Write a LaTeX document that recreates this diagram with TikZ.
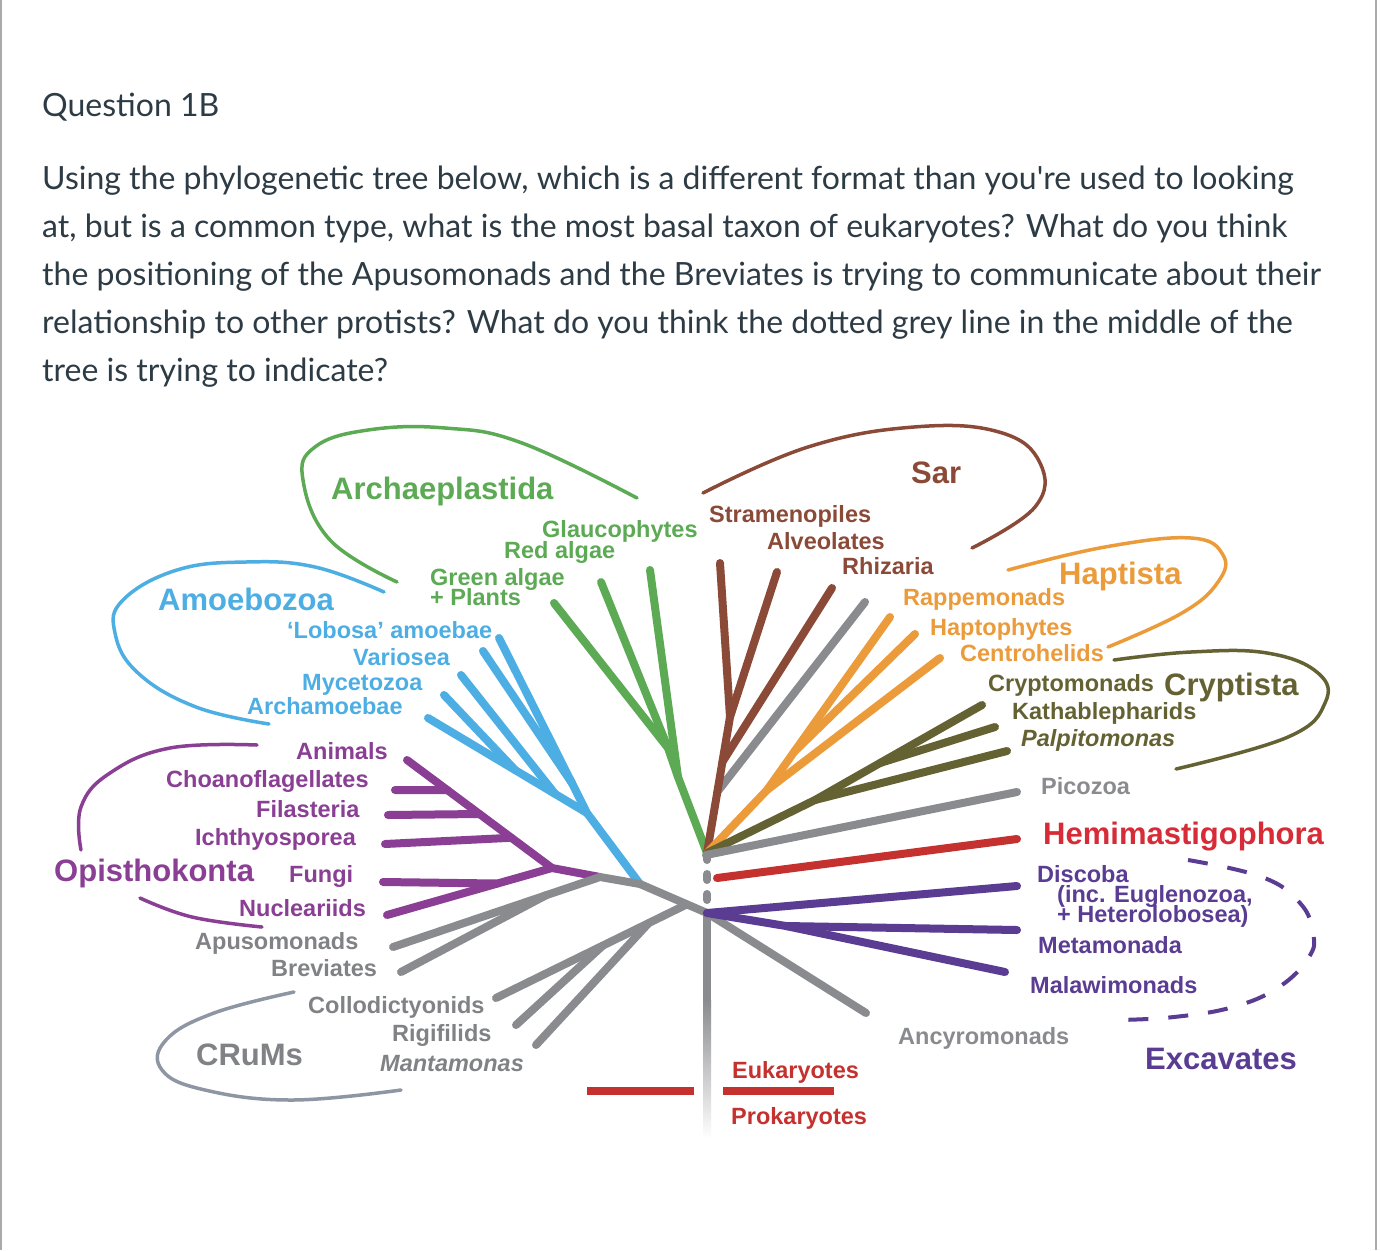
\documentclass[tikz,border=0pt]{standalone}
\usepackage{fontspec}
\newfontfamily\lato{Lato}
\newfontfamily\lib{Liberation Sans}
\usetikzlibrary{calc}
\definecolor{qtext}{HTML}{2D3B45}
\definecolor{frame}{HTML}{AAAAAA}
\definecolor{cgreen}{HTML}{5DAA55}
\definecolor{cblue}{HTML}{4DAEE3}
\definecolor{cpurple}{HTML}{8A3F94}
\definecolor{cgrey}{HTML}{8A8B8E}
\definecolor{cbrown}{HTML}{8B4A37}
\definecolor{corange}{HTML}{EC9B3B}
\definecolor{colive}{HTML}{646232}
\definecolor{cred}{HTML}{C4312F}
\definecolor{chemi}{HTML}{D72C37}
\definecolor{cindigo}{HTML}{5A3C93}
\definecolor{cslate}{HTML}{8F96A3}
\definecolor{ctgrey}{HTML}{808285}
\begin{document}
\begin{tikzpicture}[x=1pt,y=-1pt,line cap=round,line join=round,
  br/.style={line width=8pt},
  outl/.style={line width=3.5pt},
  qt/.style={inner sep=0pt,anchor=base west,text=qtext,font=\lato\fontsize{32}{33}\selectfont},
  lab/.style={inner sep=0pt,anchor=base west,font=\lib\bfseries\fontsize{23.5}{24}\selectfont},
  ilab/.style={inner sep=0pt,anchor=base west,font=\lib\bfseries\itshape\fontsize{23.5}{24}\selectfont},
  biglab/.style={inner sep=0pt,anchor=base west,font=\lib\bfseries\fontsize{31}{32}\selectfont}]
\useasboundingbox (0,0) rectangle (1380,1250);
\fill[white] (0,0) rectangle (1380,1250);
\draw[frame,line width=2pt,line cap=butt] (1,0) -- (1,1250);
\draw[frame,line width=2pt,line cap=butt] (1375.5,0) -- (1375.5,1250);

% question text
\node[qt] (q0) at (42,116) {Question 1B};
\node[qt] (q1) at (42,189) {Using the phylogenetic tree below, which is a different format than you're used to looking};
\node[qt] (q2) at (42,237) {at, but is a common type, what is the most basal taxon of eukaryotes? What do you think};
\node[qt] (q3) at (42,285) {the positioning of the Apusomonads and the Breviates is trying to communicate about their};
\node[qt] (q4) at (42,333) {relationship to other protists? What do you think the dotted grey line in the middle of the};
\node[qt] (q5) at (42,381) {tree is trying to indicate?};

% ---------- coordinates ----------
\coordinate (h1) at (707,853);
\coordinate (h2) at (707,913);
% green
\coordinate (gG) at (650,570);
\coordinate (gR) at (601,582);
\coordinate (gP) at (554,603);
\coordinate (g2) at (668,748);
\coordinate (g1) at (678,777);
% blue
\coordinate (bj) at (640,884);
\coordinate (bl1) at (587,813);
\coordinate (b1e) at (499,638);
\coordinate (b2e) at (483,651);
\coordinate (b3e) at (461,675);
\coordinate (b4e) at (444,695);
\coordinate (b5e) at (428,718);
\coordinate (blo) at ($(b1e)!0.83!(bl1)$);
\coordinate (bam) at ($(b5e)!0.55!(bl1)$);
\coordinate (bev) at ($(b5e)!0.8!(bl1)$);
% grey main
\coordinate (R) at (600,877);
\coordinate (cj) at ($(bj)!0.7!(h2)$);
\coordinate (anc) at (866,1013);
% purple
\coordinate (p1) at (552,868);
\coordinate (ani) at (407,760);
\coordinate (cho) at (395,790);
\coordinate (fil) at (388,815);
\coordinate (ich) at (385,844);
\coordinate (fun) at (383,882);
\coordinate (nuc) at (387,915);
% apuso / brev
\coordinate (apu) at (393,947);
\coordinate (bre) at (401,972);
\coordinate (ap1) at ($(apu)!0.74!(R)$);
% CRuMs
\coordinate (col) at (496,998);
\coordinate (rig) at (516,1025);
\coordinate (man) at (536,1045);
\coordinate (c1) at ($(col)!0.56!(cj)$);
\coordinate (c2) at ($(col)!0.8!(cj)$);
% brown
\coordinate (sS) at (720,563);
\coordinate (sA) at (777,572);
\coordinate (sR) at (832,588);
\coordinate (sb1) at (730,717);
\coordinate (sb2) at ($(sb1)!0.33!(h1)$);
\coordinate (tel) at (865,602);
\coordinate (sb3) at ($(sb1)!0.55!(h1)$);
% orange
\coordinate (rap) at (890,617);
\coordinate (hap) at (915,634);
\coordinate (cen) at (940,658);
\coordinate (o1) at (767,790);
\coordinate (o2) at ($(rap)!0.78!(o1)$);
% olive
\coordinate (cr) at (982,705);
\coordinate (ka) at (995,727);
\coordinate (pa) at (1007,751);
\coordinate (ol1) at (815,800);
\coordinate (ol2) at ($(cr)!0.61!(ol1)$);
% picozoa, hemi
\coordinate (pic) at (1017,792);
\coordinate (pich) at (706,855);
\coordinate (hem) at (1017,839);
\coordinate (hemh) at (717,878);
% excavates
\coordinate (disc) at (1017,886);
\coordinate (ex1) at (786,926);
\coordinate (meta) at (1017,930);
\coordinate (mala) at (1005,972);

% ---------- branches ----------
% vertical grey base line with fading
\draw[cgrey,line width=8pt,line cap=butt] (h2) -- (707,1000);
\shade[top color=cgrey,bottom color=white] (703,1000) rectangle (711,1138);
% dotted line between hubs
\draw[cgrey,line width=8pt,dash pattern=on 6pt off 14pt] (707,854) -- (h2);

\draw[br,cgreen] (gP) -- (g2) -- (g1) -- (h1);
\draw[br,cgreen] (gR) -- (g2);
\draw[br,cgreen] (gG) -- (g1);

\draw[br,cblue] (b1e) -- (bl1) -- (bj);
\draw[br,cblue] (b2e) -- (blo);
\draw[br,cblue] (b5e) -- (bl1);
\draw[br,cblue] (b4e) -- (bam);
\draw[br,cblue] (b3e) -- (bev);

\draw[br,cpurple] (ani) -- (p1) -- (R);
\draw[br,cpurple] (cho) -- ($(ani)!0.28!(p1)$);
\draw[br,cpurple] (fil) -- ($(ani)!0.5!(p1)$);
\draw[br,cpurple] (ich) -- ($(ani)!0.72!(p1)$);
\draw[br,cpurple] (nuc) -- (p1);
\draw[br,cpurple] (fun) -- ($(nuc)!0.67!(p1)$);

\draw[br,cgrey] (apu) -- (R) -- (bj) -- (cj) -- (h2) -- (anc);
\draw[br,cgrey] (bre) -- (ap1);
\draw[br,cgrey] (col) -- (cj);
\draw[br,cgrey] (rig) -- (c1);
\draw[br,cgrey] (man) -- (c2);

\draw[br,cgrey] (tel) -- (sb3);
\draw[br,cbrown] (sS) -- (sb1) -- (h1);
\draw[br,cbrown] (sA) -- (sb1);
\draw[br,cbrown] (sR) -- (sb2);

\draw[br,corange] (rap) -- (o1) -- (h1);
\draw[br,corange] (hap) -- (o2);
\draw[br,corange] (cen) -- (o1);

\draw[br,colive] (cr) -- (ol1) -- (h1);
\draw[br,colive] (ka) -- (ol2);
\draw[br,colive] (pa) -- (ol1);

\draw[br,cgrey] (pich) -- (pic);
\draw[br,cred] (hemh) -- (hem);

\draw[br,cindigo] (h2) -- (disc);
\draw[br,cindigo] (h2) -- (ex1) -- (meta);
\draw[br,cindigo] (ex1) -- (mala);

% eukaryote / prokaryote bars
\draw[cred,line width=8pt,line cap=butt] (587,1091) -- (694,1091);
\draw[cred,line width=8pt,line cap=butt] (723,1091) -- (834,1091);

% ---------- outlines ----------
\draw[outl,cgreen] plot[smooth,tension=0.7] coordinates {(397,582) (330,540) (303,480) (315,447) (368,430) (445,428) (522,443) (637,498)};
\draw[outl,cblue] plot[smooth,tension=0.7] coordinates {(384,592) (315,567) (246,562) (177,570) (123,600) (115,633) (138,673) (196,707) (269,724)};
\draw[outl,cpurple] plot[smooth,tension=0.7] coordinates {(257,745) (170,748) (110,773) (81,807) (81,850)};
\draw[outl,cpurple] plot[smooth,tension=0.7] coordinates {(140,898) (192,917) (262,927)};
\draw[outl,cslate] plot[smooth,tension=0.7] coordinates {(294,992) (214,1013) (166,1040) (162,1070) (205,1090) (292,1100) (401,1090)};
\draw[outl,cbrown] plot[smooth,tension=0.7] coordinates {(703,493) (808,447) (914,427) (999,432) (1040,463) (1035,507) (972,548)};
\draw[outl,corange] plot[smooth,tension=0.7] coordinates {(1008,570) (1105,547) (1191,538) (1223,555) (1218,582) (1182,613) (1108,647)};
\draw[outl,colive] plot[smooth,tension=0.7] coordinates {(1114,660) (1191,652) (1267,653) (1318,673) (1325,703) (1288,737) (1176,769)};
\draw[cindigo,line width=4pt,line cap=butt,dash pattern=on 20pt off 20pt] plot[smooth,tension=0.7] coordinates {(1188,860) (1262,877) (1300,903) (1313,933) (1309,957) (1279,987) (1233,1007) (1174,1017) (1118,1020)};

% ---------- labels ----------
\node[biglab,text=cgreen] (tArch) at (331,499) {Archaeplastida};
\node[lab,text=cgreen] (tGla) at (542,537) {Glaucophytes};
\node[lab,text=cgreen] (tRed) at (504,558) {Red algae};
\node[lab,text=cgreen] (tGre) at (430,585) {Green algae};
\node[lab,text=cgreen] (tPla) at (430,605) {+ Plants};

\node[biglab,text=cblue] (tAmo) at (158,610) {Amoebozoa};
\node[lab,text=cblue] (tLob) at (287,638) {‘Lobosa’ amoebae};
\node[lab,text=cblue] (tVar) at (353,665) {Variosea};
\node[lab,text=cblue] (tMyc) at (302,690) {Mycetozoa};
\node[lab,text=cblue] (tArc) at (247,714) {Archamoebae};

\node[lab,text=cpurple] (tAni) at (296,759) {Animals};
\node[lab,text=cpurple] (tCho) at (166,787) {Choanoflagellates};
\node[lab,text=cpurple] (tFil) at (256,817) {Filasteria};
\node[lab,text=cpurple] (tIch) at (195,845) {Ichthyosporea};
\node[biglab,text=cpurple] (tOpi) at (54,881) {Opisthokonta};
\node[lab,text=cpurple] (tFun) at (289,882) {Fungi};
\node[lab,text=cpurple] (tNuc) at (239,916) {Nucleariids};

\node[lab,text=ctgrey] (tApu) at (195,949) {Apusomonads};
\node[lab,text=ctgrey] (tBre) at (271,976) {Breviates};
\node[lab,text=ctgrey] (tCol) at (308,1013) {Collodictyonids};
\node[lab,text=ctgrey] (tRig) at (392,1041) {Rigifilids};
\node[ilab,text=ctgrey] (tMan) at (380,1071) {Mantamonas};
\node[biglab,text=ctgrey] (tCRu) at (196,1065) {CRuMs};

\node[biglab,text=cbrown] (tSar) at (911,483) {Sar};
\node[lab,text=cbrown] (tStr) at (709,522) {Stramenopiles};
\node[lab,text=cbrown] (tAlv) at (767,549) {Alveolates};
\node[lab,text=cbrown] (tRhi) at (842,574) {Rhizaria};

\node[biglab,text=corange] (tHpt) at (1059,584) {Haptista};
\node[lab,text=corange] (tRap) at (903,605) {Rappemonads};
\node[lab,text=corange] (tHap) at (930,635) {Haptophytes};
\node[lab,text=corange] (tCen) at (960,661) {Centrohelids};

\node[lab,text=colive] (tCry) at (988,691) {Cryptomonads};
\node[biglab,text=colive] (tCrt) at (1164,695) {Cryptista};
\node[lab,text=colive] (tKat) at (1012,719) {Kathablepharids};
\node[ilab,text=colive] (tPal) at (1021,746) {Palpitomonas};

\node[lab,text=cgrey] (tPic) at (1041,794) {Picozoa};
\node[biglab,text=chemi] (tHem) at (1043,844) {Hemimastigophora};
\node[lab,text=cindigo] (tDis) at (1037,882) {Discoba};
\node[lab,text=cindigo] (tInc) at (1057,902) {(inc. Euglenozoa,};
\node[lab,text=cindigo] (tHet) at (1057,922) {+ Heterolobosea)};
\node[lab,text=cindigo] (tMet) at (1038,953) {Metamonada};
\node[lab,text=cindigo] (tMal) at (1030,993) {Malawimonads};
\node[biglab,text=cindigo] (tExc) at (1145,1069) {Excavates};
\node[lab,text=cgrey] (tAnc) at (898,1044) {Ancyromonads};
\node[lab,text=cred] (tEuk) at (732,1078) {Eukaryotes};
\node[lab,text=cred] (tPro) at (731,1124) {Prokaryotes};
\end{tikzpicture}
\end{document}
